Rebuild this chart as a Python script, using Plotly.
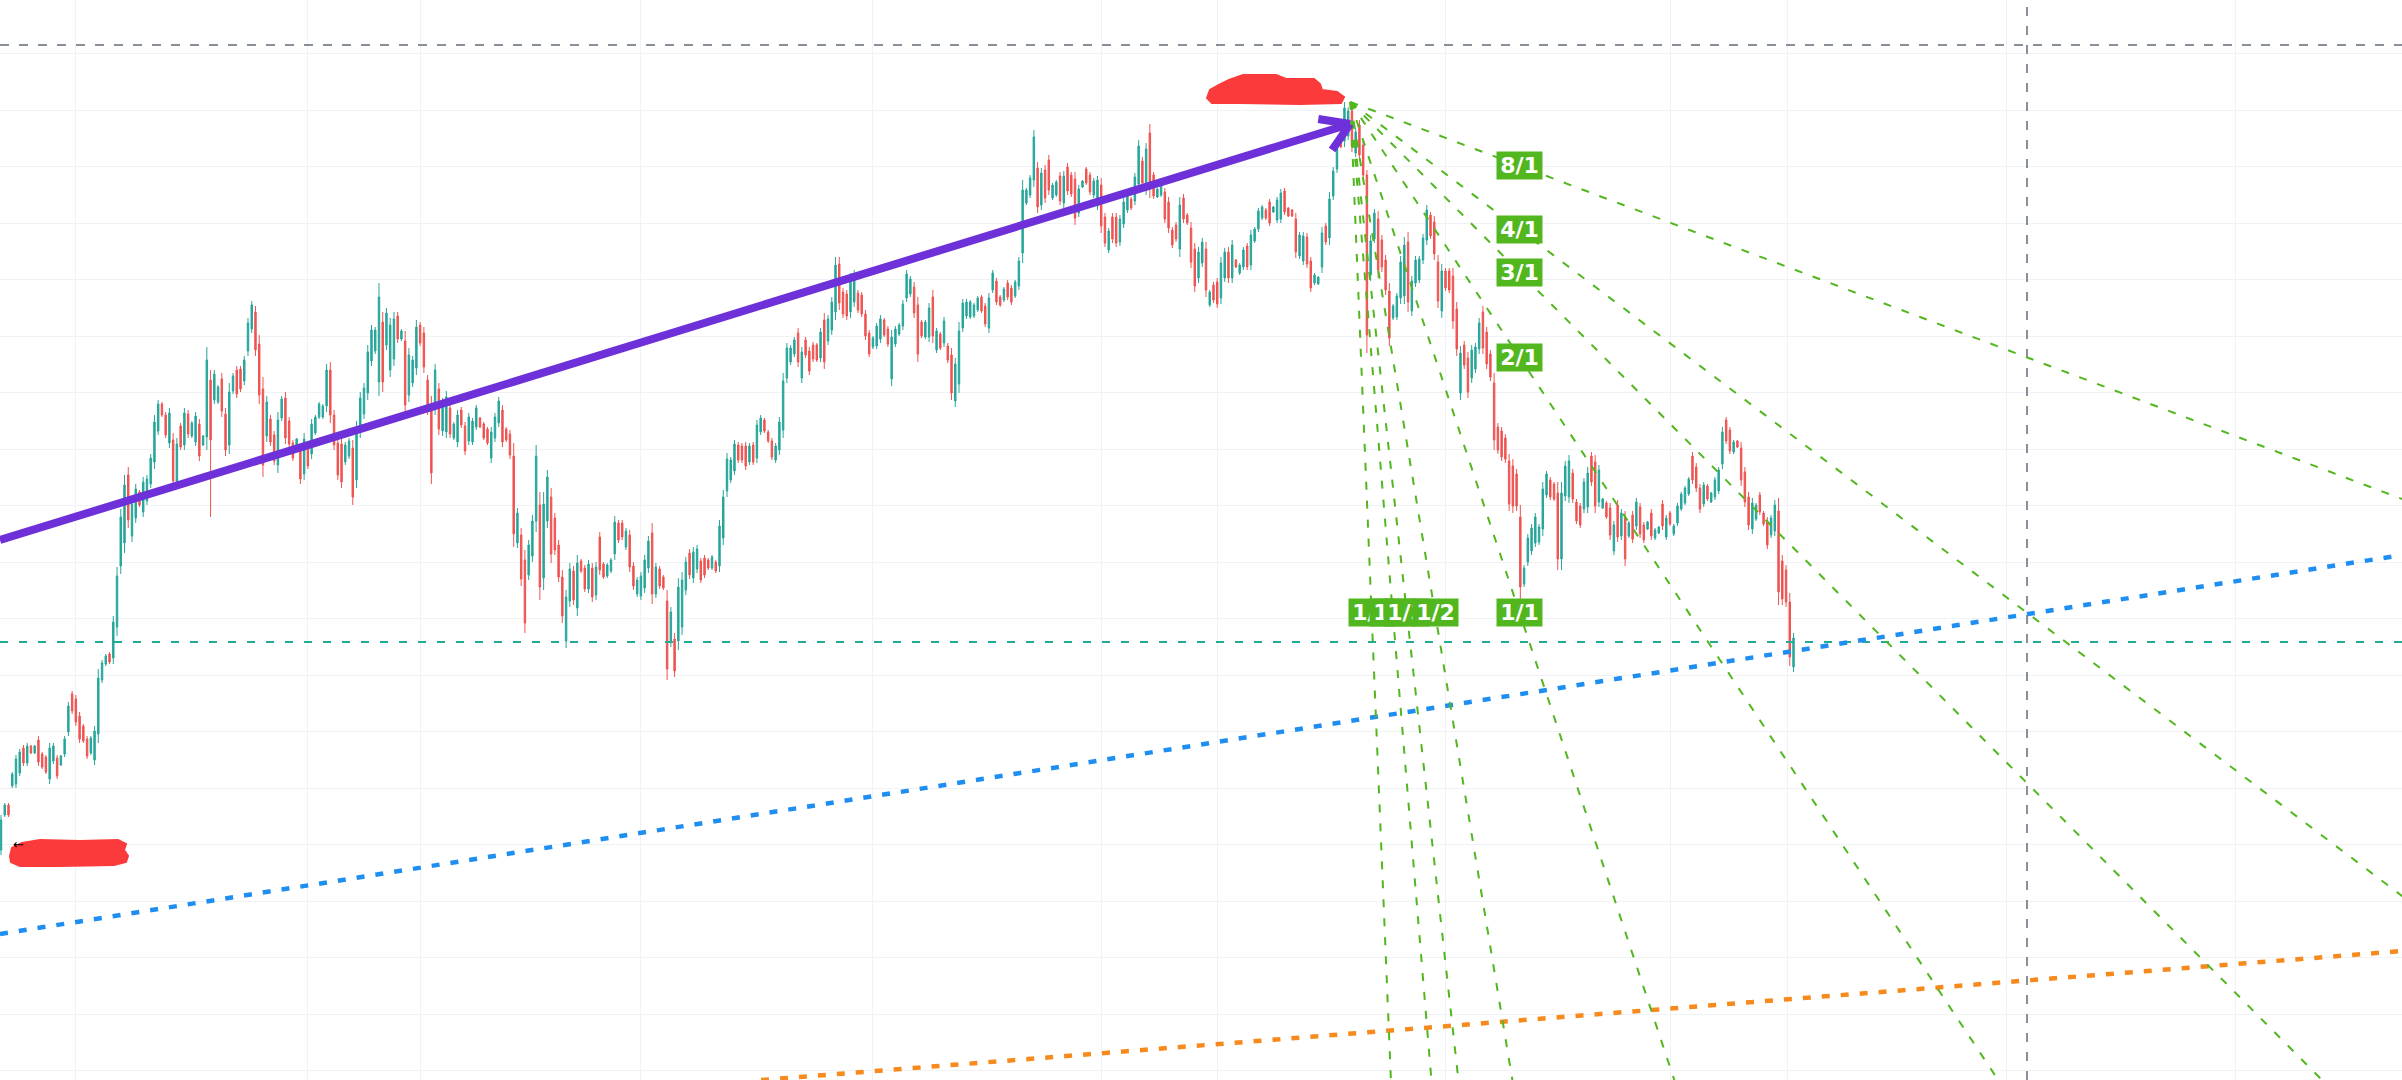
import plotly.graph_objects as go

# ---------------- candle data (daily bars, price in chart units) ----------------
opens = [
    230,265,275,294,296,307,332,317,334,327, 340,326,323,301,319,322,315,326,348,386,
    381,364,354,341,327,320,346,400,416,426, 422,453,514,537,605,544,562,588,568,579,
    596,618,649,676,665,637,640,598,654,635, 666,644,638,656,635,643,700,680,678,701,
    666,635,689,710,711,699,729,751,768,736, 691,644,661,645,615,662,682,659,637,633,
    629,606,631,626,647,663,663,674,710,665, 637,636,618,624,632,600,648,666,687,719,
    729,698,758,735,710,721,764,741,739,685, 697,712,755,747,700,673,671,691,649,648,
    672,642,638,670,654,639,638,653,662,656, 651,622,642,657,670,651,646,624,537,545,
    520,505,524,559,575,502,559,583,562,535, 503,439,479,509,472,519,512,491,512,485,
    543,516,504,509,526,557,557,533,545,514, 486,484,492,512,547,486,511,503,479,438,
    441,439,453,490,527,502,511,519,522,520, 512,518,514,542,589,600,609,635,634,634,
    618,635,622,648,660,648,639,620,630,650, 702,718,726,747,702,740,729,735,735,722,
    760,739,750,768,816,788,786,768,778,787, 785,766,747,733,734,741,760,751,701,736,
    746,754,782,786,793,775,758,743,743,783, 730,746,737,734,725,679,696,752,764,763,
    764,770,783,774,752,790,799,783,780,797, 792,784,794,827,877,885,900,912,875,910,
    920,882,885,904,877,913,905,901,867,893, 911,905,885,874,895,863,830,863,863,838,
    856,870,881,879,896,919,891,947,905,883, 885,888,878,850,855,831,882,865,852,831,
    802,817,831,775,795,798,782,802,828,802, 820,807,813,834,815,839,851,862,870,878,
    868,860,861,889,872,870,861,824,819,843, 819,797,796,813,854,842,884,911,940,939,
    944,969,927,955,935,905,805,841,861,840, 820,789,762,763,782,784,838,769,797,800,
    820,840,865,858,818,769,809,809,804,771, 687,735,722,702,711,731,768,748,726,697,
    653,649,642,619,614,606,563,496,518,529, 537,538,551,585,600,596,587,521,584,583,
    607,578,574,571,573,624,618,578,572,577, 572,529,575,544,562,544,565,554,573,555,
    551,567,542,547,576,543,567,546,557,571, 577,586,624,613,592,576,594,578,583,589,
    616,660,650,628,639,632,608,583,551,561, 585,567,559,545,549,569,519,510,478,413,
]
highs = [
    265,277,277,308,325,331,335,337,335,335, 344,328,325,337,337,325,325,344,378,389,
    385,368,356,344,344,354,411,420,426,428, 464,513,571,605,613,582,596,590,603,605,
    626,665,680,678,668,672,647,642,657,672, 670,659,668,661,645,733,710,710,695,707,
    672,697,707,714,714,724,762,779,774,745, 703,684,665,649,668,684,688,663,640,642,
    634,647,634,661,665,678,676,716,718,670, 642,642,638,642,640,659,688,697,735,755,
    753,797,768,772,762,768,768,751,749,732, 724,760,758,753,705,684,716,697,682,689,
    676,658,670,673,658,667,662,675,663,658, 653,653,667,683,675,653,650,637,572,552,
    530,540,565,635,588,588,610,592,567,540, 510,490,517,514,525,521,515,520,517,518,
    548,518,517,522,564,560,560,552,550,518, 503,508,525,544,557,517,514,505,490,473,
    447,502,508,523,531,533,535,522,525,522, 525,520,560,590,627,623,640,638,637,638,
    637,638,660,665,662,650,642,637,663,707, 737,735,743,752,733,743,733,738,737,752,
    767,765,783,823,823,792,790,807,810,790, 788,770,750,744,757,765,762,754,750,754,
    757,780,810,804,798,783,760,760,777,790, 752,748,763,737,732,722,758,781,781,780,
    777,784,785,777,787,810,802,785,793,800, 795,800,823,900,892,905,950,918,912,915,
    925,897,900,908,909,917,908,908,895,900, 913,908,902,904,902,867,852,867,867,865,
    882,890,883,907,940,923,937,956,908,892, 900,892,883,853,858,883,886,867,858,837,
    833,842,838,790,798,802,823,832,833,840, 821,817,833,837,850,853,872,875,872,881,
    874,883,891,892,873,871,867,848,848,847, 823,807,804,853,857,888,913,935,941,978,
    973,975,952,960,940,910,845,871,869,845, 825,797,776,787,824,843,848,804,824,824,
    846,875,868,864,825,816,812,812,812,778, 734,739,728,735,737,762,774,753,730,707,
    657,653,646,626,621,611,575,515,546,556, 567,556,598,609,603,598,598,598,619,625,
    611,581,577,602,613,628,625,615,582,579, 577,559,580,571,569,559,569,582,577,558,
    559,571,552,554,580,565,569,556,577,588, 594,603,628,617,596,598,596,588,603,613,
    653,663,653,640,640,638,613,588,582,577, 588,569,563,565,580,582,525,515,487,447,
]
lows = [
    225,263,263,292,292,304,314,314,326,326, 314,311,306,296,316,301,314,323,344,366,
    354,337,337,321,325,315,337,397,414,416, 416,444,506,527,552,538,557,573,563,575,
    592,611,645,663,642,632,592,592,630,630, 642,642,634,619,634,630,563,676,676,663,
    624,626,686,682,688,695,724,747,724,676, 603,638,634,615,607,659,636,632,619,632,
    596,600,611,621,645,661,661,668,657,630, 600,592,615,621,575,592,642,661,680,714,
    726,684,688,730,703,714,737,739,665,678, 693,705,734,707,665,596,665,645,644,642,
    642,640,633,652,625,635,635,650,652,640, 635,617,638,653,633,638,621,533,532,494,
    447,500,518,548,480,490,552,517,525,498, 457,432,473,475,464,507,488,487,478,480,
    505,501,502,507,520,537,540,530,508,490, 483,480,487,507,476,482,491,490,400,433,
    403,430,445,485,501,497,507,497,502,510, 510,507,508,535,583,597,605,617,617,610,
    615,615,617,645,647,637,620,617,625,642, 697,715,723,713,697,722,705,718,718,718,
    711,735,745,760,770,762,760,762,773,767, 763,740,723,731,731,737,743,733,694,733,
    744,750,778,783,762,718,742,741,738,737, 727,730,733,717,680,673,687,748,761,761,
    762,768,767,753,747,787,775,773,778,780, 775,782,790,817,875,882,893,867,870,877,
    885,880,883,875,872,885,883,855,863,892, 895,885,882,870,847,833,827,837,833,834,
    852,867,870,875,890,893,885,882,881,882, 883,857,847,832,838,823,857,855,812,788,
    797,813,783,773,777,772,776,798,797,797, 812,805,810,810,810,837,848,860,860,854,
    867,857,857,865,863,863,822,821,815,812, 788,795,795,807,835,835,880,907,932,933,
    940,928,923,920,900,727,799,837,802,808, 785,734,760,760,776,776,768,764,793,797,
    816,835,841,820,772,762,789,787,751,724, 680,711,682,697,707,726,726,711,699,630,
    626,619,617,569,567,569,481,493,514,525, 533,535,544,582,580,579,510,510,579,577,
    577,556,552,567,567,594,567,573,571,561, 540,525,538,540,514,542,537,550,542,537,
    550,540,540,546,550,540,554,544,554,569, 575,584,596,588,567,573,579,577,580,586,
    611,636,626,626,632,594,573,550,546,559, 565,554,531,542,544,475,475,473,414,408,
]
closes = [
    260,275,265,306,321,328,317,334,327,334, 318,313,308,332,334,304,324,341,374,369,
    358,341,339,324,342,349,402,417,424,418, 458,504,563,595,560,576,591,575,598,601,
    622,658,676,665,645,667,599,636,633,667, 646,657,664,624,644,720,640,706,693,669,
    630,688,704,686,691,720,757,775,730,685, 615,678,638,619,660,681,642,636,622,641,
    601,641,614,656,663,676,674,710,665,635, 605,598,635,639,583,651,682,692,728,750,
    750,783,698,767,755,761,741,749,675,725, 720,753,737,713,670,607,710,651,677,683,
    646,656,665,655,629,663,659,672,653,642, 637,648,663,679,638,640,625,546,567,501,
    457,535,559,624,493,576,603,526,530,503, 464,483,511,480,517,509,491,516,483,513,
    510,503,515,520,558,540,543,549,513,494, 500,504,520,539,486,513,494,492,411,468,
    409,493,500,518,505,528,531,500,505,512, 523,509,554,583,621,620,636,620,620,614,
    634,618,655,662,649,639,623,634,658,699, 732,732,740,718,728,725,709,721,720,748,
    718,761,778,815,777,766,764,801,805,770, 766,744,726,742,754,761,745,736,743,751,
    755,776,806,801,767,726,744,758,772,744, 749,732,759,720,687,716,749,777,778,778,
    775,782,769,756,782,807,778,775,791,783, 778,798,819,890,890,902,943,873,907,882,
    890,895,898,879,904,889,886,862,891,899, 897,888,899,900,854,837,849,841,837,861,
    878,887,872,903,934,897,931,891,884,891, 898,861,852,835,841,875,861,857,818,794,
    828,838,790,788,780,776,817,828,802,835, 813,815,830,813,845,851,869,873,862,857,
    873,880,887,868,864,864,828,845,844,816, 792,805,803,847,838,881,909,931,933,972,
    969,934,948,925,905,745,839,867,810,813, 790,742,774,784,818,835,778,799,820,821,
    842,870,844,826,779,809,792,790,759,731, 727,715,688,730,733,757,732,716,703,640,
    630,623,621,576,574,574,493,512,542,552, 563,553,591,606,583,581,521,587,614,619,
    581,559,555,598,607,598,574,610,581,563, 545,555,543,567,521,557,541,578,546,540,
    558,544,550,553,554,562,556,554,574,586, 592,601,600,592,571,595,581,587,600,610,
    648,639,629,638,633,600,578,555,577,575, 568,556,535,562,575,488,481,478,423,442,
]
days = list(range(len(opens)))

# ---------------- frame ----------------
x_range = [-0.27, 641.6]
y_range = [0, 1080]
x_grid = [20, 82, 112, 171, 233, 294, 325, 386, 446, 477.5, 536, 597]
y_grid = [9.5, 66, 122.5, 179, 235.5, 292, 348.5, 405, 461.5, 518, 574.5, 631,
          687.5, 744, 800.5, 857, 913.5, 970, 1026.5]

# ---------------- drawings (chart coordinates) ----------------
trend_start = (-0.27, 540)
trend_tip = (360.5, 956)
arrow_arm_a = (352.0, 961)
arrow_arm_b = (355.7, 930)
blue_start, blue_end = (-0.27, 146), (641.6, 525)
orange_start, orange_end = (203.1, 0), (641.6, 129)
teal_level = 438
gray_level = 1035
gray_vline = 541.4
fan_origin = (360.6, 978)
fan_unit = (405.8, 467.2)
fan_labels = ["8/1", "4/1", "3/1", "2/1", "1/1", "1/8", "1/4", "1/3", "1/2"]

UP, DOWN = "#26a69a", "#ef5350"
FAN = "#52b71e"
GRID = "#f0f2f6"

fig = go.Figure()
fig.add_trace(go.Candlestick(
    x=days, open=opens, high=highs, low=lows, close=closes,
    increasing=dict(line=dict(color=UP, width=1), fillcolor=UP),
    decreasing=dict(line=dict(color=DOWN, width=1), fillcolor=DOWN),
    whiskerwidth=0, hoverinfo="skip", showlegend=False,
))

shapes = []
def seg(p, q, color, width, dash="solid"):
    shapes.append(dict(type="line", xref="x", yref="y", x0=p[0], y0=p[1], x1=q[0], y1=q[1],
                       line=dict(color=color, width=width, dash=dash), layer="above"))

# horizontal / vertical reference lines
seg((x_range[0], gray_level), (x_range[1], gray_level), "#878f9b", 2, "9px,10px")
seg((gray_vline, y_range[0]), (gray_vline, y_range[1]), "#878f9b", 2, "9px,10px")
seg((x_range[0], teal_level), (x_range[1], teal_level), "#22ab94", 2, "8px,11px")

# dotted trend lines
seg(blue_start, blue_end, "#1f8ef1", 4.5, "8px,11px")
seg(orange_start, orange_end, "#f78a1d", 4.5, "8px,11px")

# gann fan
ox, oy = fan_origin
m1 = (fan_unit[1] - oy) / (fan_unit[0] - ox)
annotations = []
for lab in fan_labels:
    a, b = [float(v) for v in lab.split("/")]
    slope = m1 * b / a
    x_end = 800
    seg((ox, oy), (x_end, oy + slope * (x_end - ox)), FAN, 2, "8px,11px")
for lab in fan_labels:
    a, b = [float(v) for v in lab.split("/")]
    slope = m1 * b / a
    if a >= b:
        lx = fan_unit[0]
        ly = oy + slope * (lx - ox)
    else:
        ly = fan_unit[1]
        lx = ox + (ly - oy) / slope
    annotations.append(dict(x=lx, y=ly, xref="x", yref="y", text="<b>" + lab + "</b>",
                            showarrow=False,
                            font=dict(family="DejaVu Sans", size=22, color="white"),
                            bgcolor=FAN, width=45, height=27, borderpad=0,
                            align="center", valign="middle"))

# purple trend arrow
seg(trend_start, trend_tip, "#6e30d8", 8)
seg(arrow_arm_a, trend_tip, "#6e30d8", 8)
seg(arrow_arm_b, trend_tip, "#6e30d8", 8)

# redaction blobs (pixel outlines -> paper)
W, H = 2402, 1080
def blob(points, color):
    d = "M " + " L ".join(f"{x / W:.5f},{1 - y / H:.5f}" for x, y in points) + " Z"
    shapes.append(dict(type="path", xref="paper", yref="paper", path=d,
                       fillcolor=color, line=dict(color=color, width=2), layer="above"))

blob([(1207, 98), (1210, 90), (1219, 85), (1229, 80), (1243, 75), (1276, 75), (1286, 79),
      (1314, 79), (1320, 84), (1322, 90), (1337, 92), (1344, 97), (1341, 103), (1300, 104),
      (1240, 103), (1212, 103)], "#fb3b3b")
blob([(12, 848), (22, 843), (40, 840), (80, 841), (118, 840), (126, 844), (124, 850),
      (128, 856), (126, 862), (114, 865), (60, 866), (20, 866), (11, 862), (10, 856)], "#fb3b3b")
annotations.append(dict(x=11 / W, y=1 - 854 / H, xref="paper", yref="paper", text="←",
                        showarrow=False, font=dict(family="DejaVu Sans", size=13, color="black")))

fig.update_layout(
    width=W, height=H, margin=dict(l=0, r=0, t=0, b=0),
    paper_bgcolor="white", plot_bgcolor="white",
    showlegend=False, boxgap=0.45,
    shapes=shapes, annotations=annotations,
    xaxis=dict(range=x_range, tickvals=x_grid, showticklabels=False, showgrid=True,
               gridcolor=GRID, gridwidth=1, zeroline=False, showline=False,
               rangeslider=dict(visible=False), fixedrange=True),
    yaxis=dict(range=y_range, tickvals=y_grid, showticklabels=False, showgrid=True,
               gridcolor=GRID, gridwidth=1, zeroline=False, showline=False, fixedrange=True),
)

fig.write_html("out.html", config={"displayModeBar": False, "staticPlot": True},
               post_script="document.body.style.margin='0';document.body.style.overflow='hidden';")
